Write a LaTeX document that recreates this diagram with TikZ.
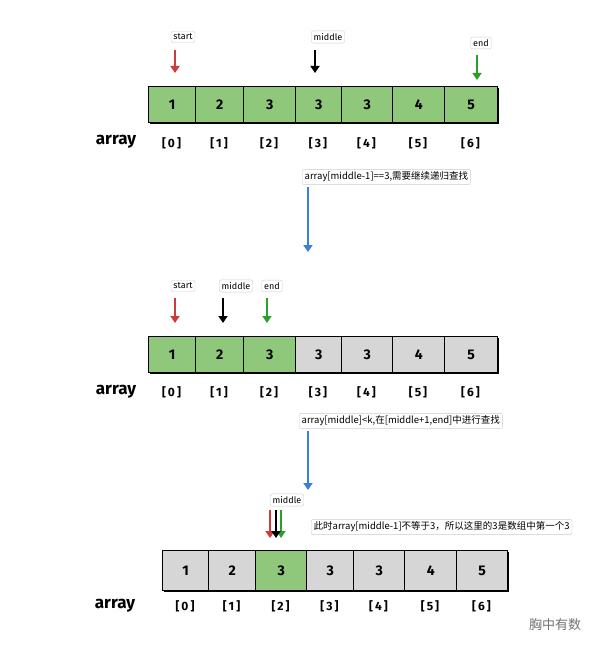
\documentclass[tikz,border=0pt]{standalone}
\usepackage{fontspec}
\setmainfont{Fira Sans}
\newfontfamily\cjk{Noto Sans CJK SC}
\usetikzlibrary{arrows.meta}
\definecolor{bgreen}{HTML}{8FC87A}
\definecolor{bgray}{HTML}{D6D6D6}
\definecolor{ared}{HTML}{D03A3A}
\definecolor{agreen}{HTML}{2AA02A}
\definecolor{ablue}{HTML}{3A7FD8}
\tikzset{
  cell/.style={draw=black, line width=1.4pt, minimum height=36pt, inner sep=0pt, font=\bfseries\fontsize{14}{14}\selectfont},
  idx/.style={font=\bfseries\fontsize{12}{12}\selectfont},
  arr/.style={font=\bfseries\fontsize{17}{17}\selectfont},
  tag/.style={draw=black!20, rounded corners=2pt, fill=white, inner sep=2.5pt, font=\fontsize{9}{10}\selectfont},
  note/.style={tag, anchor=west, font=\fontsize{9.5}{11}\selectfont\cjk},
  ptr/.style={line width=2pt, -{Triangle[width=9pt,length=7pt]}},
}
\begin{document}
\begin{tikzpicture}[x=1pt,y=-1pt]
\useasboundingbox (0,0) rectangle (600,650);
\fill[white] (0,0) rectangle (600,650);
% ---- Row 1
\foreach \a/\b/\v/\c/\i/\n in {148/195/1/bgreen/0/r1a,195/243/2/bgreen/1/r1b,243/295/3/bgreen/2/r1c,295/341/3/bgreen/3/r1d,341/392/3/bgreen/4/r1e,392/444/4/bgreen/5/r1f,444/497/5/bgreen/6/r1g}{
  \fill[black] (\a+2,88) rectangle (\b+2,124);
  \node[cell, fill=\c, minimum width=\b-\a, anchor=north west] (\n) at (\a,86) {\v};
  \node[idx] (\n i) at ({(\a+\b)/2},143) {[\,\i\,]};
}
\node[arr] (arr1) at (116,142) {array};
\node[tag] (s1) at (183,37) {start};
\node[tag] (m1) at (328,37) {middle};
\node[tag] (e1) at (481,43) {end};
\coordinate (s1t) at (175,73); \coordinate (m1t) at (315,73); \coordinate (e1t) at (477,80);
\draw[ptr, ared] (175,50) -- (s1t);
\draw[ptr, black] (315,50) -- (m1t);
\draw[ptr, agreen] (477,55) -- (e1t);
\node[note] (n1) at (302,177) {array[middle-1]==3,需要继续递归查找};
\coordinate (b1) at (308,252);
\draw[ptr, ablue] (308,187) -- (b1);
% ---- Row 2
\foreach \a/\b/\v/\c/\i/\n in {148/195/1/bgreen/0/r2a,195/243/2/bgreen/1/r2b,243/295/3/bgreen/2/r2c,295/341/3/bgray/3/r2d,341/392/3/bgray/4/r2e,392/444/4/bgray/5/r2f,444/497/5/bgray/6/r2g}{
  \fill[black] (\a+2,338) rectangle (\b+2,374);
  \node[cell, fill=\c, minimum width=\b-\a, anchor=north west] (\n) at (\a,336) {\v};
  \node[idx] (\n i) at ({(\a+\b)/2},392) {[\,\i\,]};
}
\node[arr] (arr2) at (116,392) {array};
\node[tag] (s2) at (183,286) {start};
\node[tag] (m2) at (236,286) {middle};
\node[tag] (e2) at (272,286) {end};
\coordinate (s2t) at (175,323); \coordinate (m2t) at (223,323); \coordinate (e2t) at (267,323);
\draw[ptr, ared] (175,298) -- (s2t);
\draw[ptr, black] (223,298) -- (m2t);
\draw[ptr, agreen] (267,298) -- (e2t);
\node[note] (n2) at (299,421) {array[middle]<k,在[middle+1,end]中进行查找};
\coordinate (b2) at (308,490);
\draw[ptr, ablue] (308,431) -- (b2);
% ---- Row 3
\foreach \a/\b/\v/\c/\i/\n in {162/208/1/bgray/0/r3a,208/255/2/bgray/1/r3b,255/306/3/bgreen/2/r3c,306/353/3/bgray/3/r3d,353/404/3/bgray/4/r3e,404/456/4/bgray/5/r3f,456/507/5/bgray/6/r3g}{
  \fill[black] (\a+2,552) rectangle (\b+2,592);
  \node[cell, fill=\c, minimum width=\b-\a, minimum height=40pt, anchor=north west] (\n) at (\a,550) {\v};
  \node[idx] (\n i) at ({(\a+\b)/2},606) {[\,\i\,]};
}
\node[arr] (arr3) at (115,606) {array};
\node[tag] (m3) at (287,500) {middle};
\coordinate (s3t) at (270,538); \coordinate (m3t) at (276,538); \coordinate (e3t) at (281,538);
\draw[ptr, ared] (270,510) -- (s3t);
\draw[ptr, agreen] (281,510) -- (e3t);
\draw[ptr, black] (276,510) -- (m3t);
\node[note] (n3) at (311,527) {此时array[middle-1]不等于3，所以这里的3是数组中第一个3};
\node[font=\fontsize{13}{13}\selectfont\cjk, text=black!55] (wm) at (555,625) {胸中有数};
\end{tikzpicture}
\end{document}
